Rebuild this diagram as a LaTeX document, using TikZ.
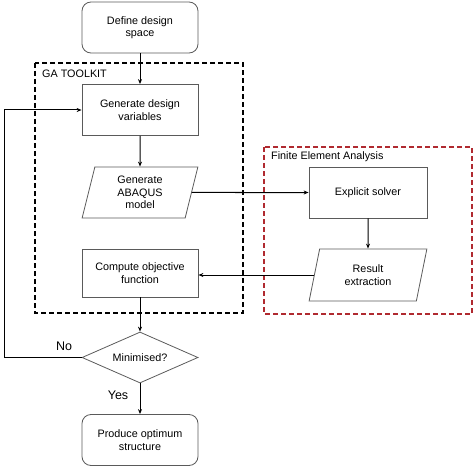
\documentclass[tikz,border=0pt]{standalone}
\usepackage{fontspec}
\setmainfont{Liberation Sans}
\usetikzlibrary{shapes.geometric,arrows.meta}
\definecolor{boxline}{HTML}{5A5A5A}
\definecolor{feared}{HTML}{B02A30}
\begin{document}
\begin{tikzpicture}[x=1pt,y=-1pt,
  every node/.style={font=\fontsize{10.8}{12.5}\selectfont, align=center, inner sep=0pt},
  procbox/.style={draw=boxline, line width=0.8pt, minimum width=116pt, minimum height=51pt},
  roundbox/.style={procbox, rounded corners=9pt},
  iobox/.style={trapezium, draw=boxline, line width=0.8pt, trapezium stretches=true, minimum width=116pt, minimum height=51pt, trapezium left angle=79, trapezium right angle=101},
  decbox/.style={diamond, draw=boxline, line width=0.8pt, aspect=2.27, minimum width=116pt, minimum height=51pt},
  flow/.style={line width=1pt, -{Stealth[length=5pt,width=4pt]}},
  edgelabel/.style={font=\fontsize{12.5}{14}\selectfont},
  gabox/.style={draw=black, line width=1.3pt, dash pattern=on 5pt off 3pt},
  feabox/.style={draw=feared, line width=1.6pt, dash pattern=on 5pt off 3pt}]
\useasboundingbox (0,0) rectangle (474,468);
% group frames
\draw[gabox] (35,63) rectangle (243,313);
\node[anchor=west] (galabel) at (42,74) {GA TOOLKIT};
\draw[feabox] (264,147) rectangle (472,314);
\node[anchor=west] (fealabel) at (271,157) {Finite Element Analysis};
% nodes
\node[roundbox] (define) at (140,27.5) {Define design\\space};
\node[procbox] (gdv) at (140,110) {Generate design\\variables};
\node[iobox] (abaqus) at (140,192.5) {Generate\\ABAQUS\\model};
\node[procbox, minimum height=48pt] (compute) at (140,273) {Compute objective\\function};
\node[decbox] (minim) at (140,357.5) {Minimised?};
\node[roundbox] (produce) at (140,440) {Produce optimum\\structure};
\node[procbox, minimum width=118pt] (explicit) at (368,192.5) {Explicit solver};
\node[iobox, minimum width=118pt, minimum height=52pt, trapezium left angle=76, trapezium right angle=104] (result) at (368,275) {Result\\extraction};
\coordinate (loopc) at (4,357.5);
% connectors
\draw[flow] (define) -- (gdv);
\draw[flow] (gdv) -- (abaqus);
\draw[flow] (abaqus.east) -- (explicit.west);
\draw[flow] (explicit) -- (result);
\draw[flow] (result.west) -- (result.west -| compute.east);
\draw[flow] (compute) -- (minim);
\draw[flow] (minim) -- (produce);
\draw[flow] (minim.west) -- (loopc) |- (gdv.west);
\node[edgelabel] (nolabel) at (64,346) {No};
\node[edgelabel] (yeslabel) at (118,395) {Yes};
\end{tikzpicture}
\end{document}
